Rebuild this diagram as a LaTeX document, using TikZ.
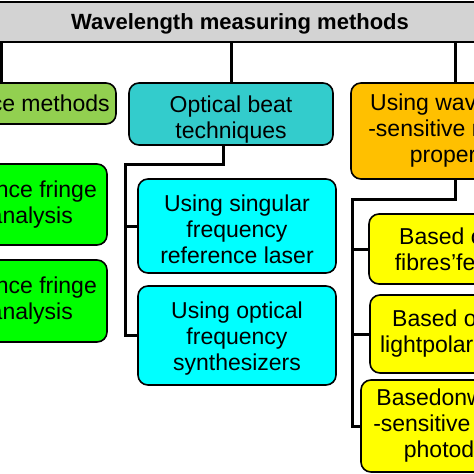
\documentclass[tikz,border=0pt]{standalone}
\usepackage{fontspec}
\setmainfont{Liberation Sans}
\definecolor{headgray}{HTML}{D3D3D3}
\definecolor{leafgreen}{HTML}{92D050}
\definecolor{beatteal}{HTML}{33CCCC}
\definecolor{sensorange}{HTML}{FFC000}
\definecolor{brightgreen}{HTML}{00FF00}
\definecolor{brightcyan}{HTML}{00FFFF}
\definecolor{brightyellow}{HTML}{FFFF00}
% taller first line, to set the text a little lower in its box
\newcommand{\textlift}[1]{\rule{0pt}{#1}}

\begin{document}
\begin{tikzpicture}[
    x=1pt, y=-1pt,
    box/.style={rectangle, rounded corners=10pt, draw=black, line width=1.6pt,
        align=center, inner sep=0pt, font=\fontsize{23}{26}\selectfont},
    link/.style={line width=3pt, -}
]
    \useasboundingbox (0,0) rectangle (474,474);
    \clip (0,0) rectangle (474,474);

    \node[box, fill=headgray, rounded corners=0pt, minimum width=520pt, minimum height=40pt,
        font=\bfseries\fontsize{22}{24}\selectfont,
        execute at begin node={\rule{0pt}{19pt}}] (head) at (240,22) {Wavelength measuring methods};

    \node[box, fill=leafgreen, minimum width=230pt, minimum height=41pt] (interf) at (1,103.5) {Interference methods};
    \node[box, fill=beatteal, minimum width=204pt, minimum height=62pt] (beat) at (231,114) {\textlift{27pt}Optical beat\\techniques};
    \node[box, fill=sensorange, minimum width=220pt, minimum height=96pt] (sens) at (461,131) {Using wavelength\\-sensitive material\\properties};

    \node[box, fill=brightgreen, align=right, minimum width=207pt, minimum height=81pt] (fringeA) at (3.5,204.5) {Interference fringe\\analysis\hspace*{24pt}};
    \node[box, fill=brightgreen, align=right, minimum width=207pt, minimum height=82pt] (fringeB) at (3.5,301) {Interference fringe\\analysis\hspace*{24pt}};

    \node[box, fill=brightcyan, minimum width=198pt, minimum height=94pt] (single) at (237,226) {\textlift{23pt}Using singular\\frequency\\reference laser};
    \node[box, fill=brightcyan, minimum width=198pt, minimum height=99pt] (synth) at (237,335.5) {\textlift{23pt}Using optical\\frequency\\synthesizers};

    \node[box, fill=brightyellow, minimum width=196pt, minimum height=70pt] (fibre) at (467,249) {Based on the\\fibres'features};
    \node[box, fill=brightyellow, minimum width=180pt, minimum height=78pt] (polar) at (460,334) {Based on the\\lightpolarization};
    \node[box, fill=brightyellow, minimum width=238pt, minimum height=92pt] (photo) at (480,426) {Basedonwavelength\\-sensitive property of\\photodetectors};

    % joints of the two trees
    \coordinate (beatjoint) at (125,164);
    \coordinate (sensjoint) at (352,199);
    \coordinate (senstop) at ([xshift=-6pt]sens.north);
    \coordinate (sensfoot) at ([xshift=-6pt]sens.south);

    \draw[link] (head.south -| interf.north) -- (interf.north);
    \draw[link] (head.south -| beat.north) -- (beat.north);
    \draw[link] (head.south -| senstop) -- (senstop);

    \draw[link] ([xshift=-8pt]beat.south) |- (beatjoint) |- (synth.west);
    \draw[link] (single.west) -- (single.west -| beatjoint);

    \draw[link] (sensfoot) |- (sensjoint) |- (photo.west);
    \draw[link] (fibre.west) -- (fibre.west -| sensjoint);
    \draw[link] (polar.west) -- (polar.west -| sensjoint);
\end{tikzpicture}
\end{document}
